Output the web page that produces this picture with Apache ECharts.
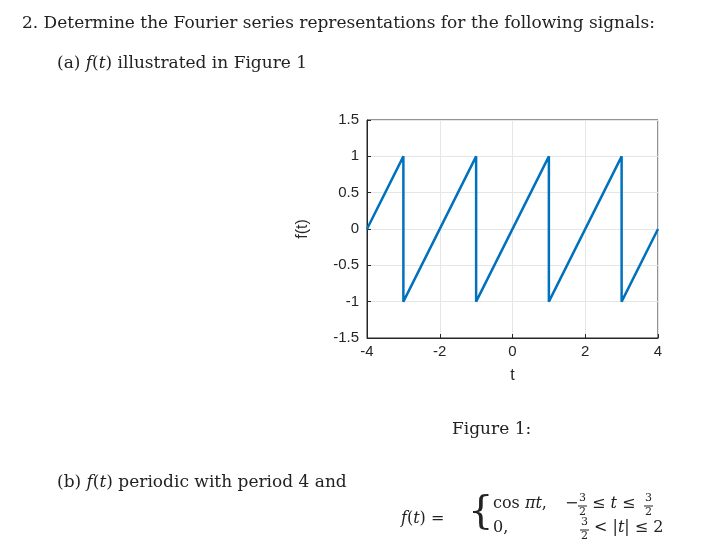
<!DOCTYPE html>
<html><head><meta charset="utf-8">
<script src="https://cdn.jsdelivr.net/npm/echarts@6/dist/echarts.min.js"></script>
<style>html,body{margin:0;padding:0;background:#fff}#c{width:710px;height:555px}</style>
</head><body><div id="c"></div>
<script>
const tValues = [-4, -3, -3, -1, -1, 1, 1, 3, 3, 4];
const fValues = [0, 1, -1, 1, -1, 1, -1, 1, -1, 0];
const xTicks = [-4, -2, 0, 2, 4];
const yTicks = [-1.5, -1, -0.5, 0, 0.5, 1, 1.5];

const serif = '"DejaVu Serif",serif';
const sans = '"Liberation Sans",Arial,sans-serif';
const rich = {
  i: {fontFamily: serif, fontStyle: 'italic', fontSize: 17, fill: '#222'},
  n: {fontFamily: serif, fontSize: 17, fill: '#222'},
  fi: {fontFamily: serif, fontStyle: 'italic', fontSize: 16, fill: '#222'},
  fn: {fontFamily: serif, fontSize: 16, fill: '#222'}
};
function txt(x, y, text) {
  return {type: 'text', left: x, top: y, style: {text: text, rich: rich}};
}
function frac(x, y) {
  return [
    {type:'text', left: x+1, top: y-13, style:{text:'3', font:'11px '+serif, fill:'#222'}},
    {type:'text', left: x+1, top: y+1, style:{text:'2', font:'11px '+serif, fill:'#222'}},
    {type:'line', shape:{x1:x,y1:y,x2:x+9,y2:y}, style:{stroke:'#222', lineWidth:1}}
  ];
}
const chart = echarts.init(document.getElementById('c'));
chart.setOption({
  animation: false,
  grid: {left: 367, top: 120, width: 291, height: 218, show: true, borderColor: '#262626', borderWidth: 1},
  xAxis: {
    type: 'value', min: -4, max: 4, interval: 2,
    name: 't', nameLocation: 'middle', nameGap: 30,
    nameTextStyle: {fontFamily: sans, fontSize: 16, color: '#262626'},
    axisLine: {show: true, onZero: false, lineStyle: {color: '#262626'}},
    axisTick: {show: true, inside: true, length: 4, lineStyle: {color: '#262626'}},
    axisLabel: {fontFamily: sans, fontSize: 15, color: '#262626', margin: 6,
      formatter: v => xTicks.includes(v) ? String(v) : ''},
    splitLine: {show: true, lineStyle: {color: '#e6e6e6'}}
  },
  yAxis: {
    type: 'value', min: -1.5, max: 1.5, interval: 0.5,
    name: 'f(t)', nameLocation: 'middle', nameGap: 56, nameRotate: 90,
    nameTextStyle: {fontFamily: sans, fontSize: 16, color: '#262626'},
    axisLine: {show: true, onZero: false, lineStyle: {color: '#262626'}},
    axisTick: {show: true, inside: true, length: 4, lineStyle: {color: '#262626'}},
    axisLabel: {fontFamily: sans, fontSize: 15, color: '#262626', margin: 8,
      formatter: v => yTicks.includes(v) ? String(v) : ''},
    splitLine: {show: true, lineStyle: {color: '#e6e6e6'}}
  },
  series: [{
    type: 'line', data: tValues.map((t, i) => [t, fValues[i]]),
    symbol: 'none', lineStyle: {color: '#0072bd', width: 2.5}
  }],
  graphic: [
    txt(22, 15, '{n|2. Determine the Fourier series representations for the following signals:}'),
    txt(57, 55, '{n|(a) }{i|f}{n|(}{i|t}{n|) illustrated in Figure 1}'),
    txt(452, 421, '{n|Figure 1:}'),
    txt(57, 474, '{n|(b) }{i|f}{n|(}{i|t}{n|) periodic with period 4 and}'),
    {type: 'text', left: 401, top: 511, style: {text: '{fi|f}{fn|(}{fi|t}{fn|) =}', rich: rich}},
    {type: 'text', left: 468, top: 493, style: {text: '{', font: '40px ' + serif, fill: '#222'}},
    {type: 'text', left: 493, top: 496, style: {text: '{fn|cos }{fi|πt}{fn|,}', rich: rich}},
    {type: 'text', left: 493, top: 520, style: {text: '{fn|0,}', rich: rich}},
    {type: 'text', left: 565, top: 496, style: {text: '{fn|−}', rich: rich}},
    ...frac(578, 506),
    {type: 'text', left: 592, top: 496, style: {text: '{fn|≤ }{fi|t}{fn| ≤}', rich: rich}},
    ...frac(644, 506),
    ...frac(580, 530),
    {type: 'text', left: 594, top: 520, style: {text: '{fn|< |}{fi|t}{fn|| ≤ 2}', rich: rich}}
  ]
});
</script></body></html>
